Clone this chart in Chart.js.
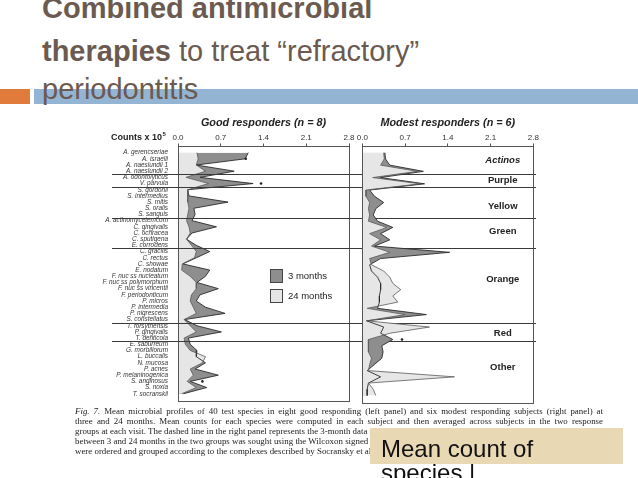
<!DOCTYPE html>
<html>
<head>
<meta charset="utf-8">
<script src="https://cdn.jsdelivr.net/npm/chart.js@4.4.1/dist/chart.umd.min.js"></script>
<style>
body { margin:0; width:638px; height:478px; overflow:hidden; background:#fff; position:relative; font-family:"Liberation Sans", Arial, sans-serif; }
.ttl { position:absolute; left:42px; font-size:29px; line-height:29px; color:#6b5a50; white-space:nowrap; }
.bar { position:absolute; top:89px; height:15px; }
.wrap { position:absolute; top:112px; height:295px; }
.lgbox { position:absolute; left:270px; width:11px; height:12px; border:1px solid #444; }
.lgtxt { position:absolute; left:288px; font-size:9.5px; line-height:13px; color:#222; }
.cap { position:absolute; left:75px; width:528px; font-family:"Liberation Serif", "Times New Roman", serif; font-size:8.9px; line-height:10px; color:#222; white-space:nowrap; }
.just { text-align:justify; text-align-last:justify; word-spacing:-0.6px; white-space:normal; height:10px; overflow:hidden; }
.note { position:absolute; left:370px; top:428px; width:253px; height:36px; background:#e8d8b4; }
.notetxt { position:absolute; left:381px; top:437px; font-size:24px; line-height:24px; color:#111; white-space:nowrap; }
</style>
</head>
<body>
<div class="bar" style="left:0; width:30px; background:#e07b3c"></div>
<div class="bar" style="left:34px; width:604px; background:#94b4d4"></div>
<div class="ttl" style="top:-6px"><b>Combined antimicrobial</b></div>
<div class="ttl" style="top:37px"><b>therapies</b> to treat “refractory”</div>
<div class="ttl" style="top:75px">periodontitis</div>

<div class="wrap" style="left:100px; width:436px"><canvas id="goodChart"></canvas></div>
<div class="wrap" style="left:352px; width:200px"><canvas id="modestChart"></canvas></div>

<div class="lgbox" style="top:269px; background:#8e8e8e"></div>
<div class="lgtxt" style="top:269px">3 months</div>
<div class="lgbox" style="top:289px; background:#e6e6e6"></div>
<div class="lgtxt" style="top:289px">24 months</div>

<div class="cap just" style="top:406px"><i>Fig. 7.</i> Mean microbial profiles of 40 test species in eight good responding (left panel) and six modest responding subjects (right panel) at</div>
<div class="cap just" style="top:416px">three and 24 months. Mean counts for each species were computed in each subject and then averaged across subjects in the two response</div>
<div class="cap" style="top:426px">groups at each visit. The dashed line in the right panel represents the 3-month data of the good responders.</div>
<div class="cap" style="top:436px">between 3 and 24 months in the two groups was sought using the Wilcoxon signed ranks test.</div>
<div class="cap" style="top:446px">were ordered and grouped according to the complexes described by Socransky et al.</div>

<div class="note"></div>
<div class="notetxt">Mean count of<br>species |</div>

<script>
const species = [
  'A. gerencseriae', 'A. israelii', 'A. naeslundii 1', 'A. naeslundii 2',
  'A. odontolyticus', 'V. parvula',
  'S. gordonii', 'S. intermedius', 'S. mitis', 'S. oralis', 'S. sanguis',
  'A. actinomycetemcom', 'C. gingivalis', 'C. ochracea', 'C. sputigena', 'E. corrodens',
  'C. gracilis', 'C. rectus', 'C. showae', 'E. nodatum', 'F. nuc ss nucleatum',
  'F. nuc ss polymorphum', 'F. nuc ss vincentii', 'F. periodonticum', 'P. micros',
  'P. intermedia', 'P. nigrescens', 'S. constellatus',
  'T. forsythensis', 'P. gingivalis', 'T. denticola',
  'E. saburreum', 'G. morbillorum', 'L. buccalis', 'N. mucosa', 'P. acnes',
  'P. melaninogenica', 'S. anginosus', 'S. noxia', 'T. socranskii'
];

// mean counts x 10^5, good responders
const good3m = [1.15, 1.10, 0.30, 0.92, 0.36, 1.23, 0.16, 0.18, 0.82, 0.26,
  0.28, 0.23, 0.63, 0.23, 0.14, 0.30, 0.52, 0.30, 0.08, 0.52,
  0.45, 0.31, 0.66, 0.36, 0.30, 0.45, 0.77, 0.11, 0.31, 0.71,
  0.17, 0.20, 0.31, 0.30, 0.45, 0.28, 0.66, 0.20, 0.47, 0.09];
const good24m = [0.31, 0.33, 0.30, 0.45, 0.13, 0.50, 0.16, 0.16, 0.16, 0.18,
  0.16, 0.14, 0.18, 0.20, 0.14, 0.22, 0.30, 0.27, 0.07, 0.06,
  0.20, 0.30, 0.30, 0.22, 0.20, 0.25, 0.30, 0.10, 0.20, 0.30,
  0.10, 0.12, 0.20, 0.45, 0.40, 0.20, 0.25, 0.15, 0.30, 0.06];

// mean counts x 10^5, modest responders
const modest3m = [0.37, 0.38, 0.45, 1.00, 0.30, 1.02, 0.12, 0.20, 0.35, 0.22,
  0.18, 0.25, 0.50, 0.30, 0.45, 0.20, 1.43, 0.30, 0.12, 0.15,
  0.25, 0.30, 0.30, 0.28, 0.28, 0.25, 1.05, 0.07, 0.35, 0.30,
  0.50, 0.32, 0.34, 0.32, 0.20, 0.08, 0.30, 0.10, 0.08, 0.08];
const modest24m = [0.35, 0.36, 0.30, 0.90, 0.17, 0.95, 0.06, 0.06, 0.12, 0.10,
  0.12, 0.10, 0.40, 0.12, 0.30, 0.15, 0.45, 0.12, 0.15, 0.35,
  0.45, 0.50, 0.63, 0.50, 0.58, 0.08, 0.70, 0.07, 1.10, 0.45,
  0.10, 0.10, 0.10, 0.15, 0.12, 0.10, 1.51, 0.10, 0.18, 0.22];

const xTicks = [0, 0.7, 1.4, 2.1, 2.8];

// complexes
const groupNames = ['Actinos', 'Purple', 'Yellow', 'Green', 'Orange', 'Red', 'Other'];
const groupLabelRows = [1.2, 4.5, 8.6, 12.6, 20.4, 29, 34.4];
const groupBreaks = [3.5, 5.5, 10.5, 15.5, 27.5, 30.5];

// significance marks
const goodStarRows = [1, 5, 37];
const goodStarVals = [1.11, 1.36, 0.40];
const modestStarRows = [30];
const modestStarVals = [0.65];

Chart.defaults.font.family = '"Liberation Sans", Arial, sans-serif';
Chart.defaults.color = '#333';

const panelDecor = {
  id: 'panelDecor',
  afterDraw(chart, args, opts) {
    const {ctx, chartArea: a, scales} = chart;
    const x = scales.x, y = scales.y;
    ctx.save();
    ctx.strokeStyle = '#555';
    ctx.lineWidth = 1;
    ctx.strokeRect(Math.round(a.left) + 0.5, Math.round(a.top) + 0.5, Math.round(a.right - a.left), Math.round(a.bottom - a.top));
    ctx.fillStyle = '#222';
    if (opts.side === 'right') {
      ctx.textAlign = 'center';
      ctx.textBaseline = 'middle';
      groupNames.forEach((n, i) => {
        ctx.font = (i === 0 ? 'italic ' : '') + 'bold 9.5px "Liberation Sans", Arial, sans-serif';
        ctx.fillText(n, x.getPixelForValue(2.3), y.getPixelForValue(groupLabelRows[i]));
      });
    } else {
      // complex dividers run across both panels
      ctx.strokeStyle = '#3a3a3a';
      groupBreaks.forEach(g => {
        const py = Math.round(y.getPixelForValue(g)) + 0.5;
        ctx.beginPath();
        ctx.moveTo(12, py);
        ctx.lineTo(chart.width, py);
        ctx.stroke();
      });
      ctx.textAlign = 'left';
      ctx.textBaseline = 'alphabetic';
      ctx.font = 'bold 9px "Liberation Sans", Arial, sans-serif';
      const base = x.top + x.height - 6;
      ctx.fillText('Counts x 10', 11, base);
      const w = ctx.measureText('Counts x 10').width;
      ctx.font = 'bold 6px "Liberation Sans", Arial, sans-serif';
      ctx.fillText('5', 11 + w + 0.5, base - 4);
    }
    ctx.restore();
  }
};

function profileChart(id, side, title, v3, v24, starRows, starVals) {
  const pts = arr => arr.map((v, i) => ({x: v, y: i}));
  const data = {
    datasets: [{
        label: '24 months',
        data: pts(v24),
        borderColor: '#5a5a5a',
        borderWidth: 0.8,
        backgroundColor: '#e6e6e6',
        fill: 'origin',
        pointRadius: 0
      }, {
        label: '3 months',
        data: pts(v3),
        borderColor: '#2a2a2a',
        borderWidth: 0.9,
        backgroundColor: '#8e8e8e',
        fill: 'origin',
        pointRadius: 0
      }, {
        label: 'p < 0.05',
        data: starRows.map((r, k) => ({x: starVals[k], y: r})),
        showLine: false,
        fill: false,
        pointRadius: 1.3,
        pointBorderWidth: 0,
        pointBackgroundColor: '#222'
      }]
  };

  const config = {
    type: 'line',
    data: data,
    options: {
      indexAxis: 'y',
      responsive: true,
      maintainAspectRatio: false,
      animation: false,
      layout: {
        padding: side === 'left'
          ? {top: 5, right: 187, bottom: 4, left: 0}
          : {top: 5, right: 18.7, bottom: 4, left: 10.3}
      },
      plugins: {
        legend: {display: false},
        tooltip: {enabled: false},
        filler: {drawTime: 'beforeDatasetsDraw'},
        title: {
          display: true,
          text: title,
          fullSize: false,
          padding: 0,
          color: '#222',
          font: {size: 10.8, weight: 'bold', style: 'italic'}
        },
        panelDecor: {side: side}
      },
      scales: {
        x: {
          type: 'linear',
          position: 'top',
          min: 0,
          max: 2.8,
          afterBuildTicks: s => { s.ticks = xTicks.map(v => ({value: v})); },
          afterFit: s => { s.height = 16.5; },
          ticks: {callback: v => v.toFixed(1), font: {size: 8}, padding: 1, maxRotation: 0, autoSkip: false},
          grid: {drawOnChartArea: false, tickLength: 3, color: '#555'},
          border: {display: false}
        },
        y: {
          type: 'linear',
          reverse: true,
          min: -1,
          max: 40.2,
          afterBuildTicks: s => { s.ticks = species.map((_, i) => ({value: i})); },
          afterFit: s => { s.width = side === 'left' ? 78 : 0; },
          ticks: {display: side === 'left', callback: v => species[v], autoSkip: false, padding: 2, color: '#333', font: {size: 6.4, style: 'italic'}},
          grid: {display: false},
          border: {display: false}
        }
      }
    },
    plugins: [panelDecor]
  };

  let ctx = document.getElementById(id).getContext('2d');
  new Chart(ctx, config);
}

profileChart('goodChart', 'left', 'Good responders (n = 8)', good3m, good24m, goodStarRows, goodStarVals);
profileChart('modestChart', 'right', 'Modest responders (n = 6)', modest3m, modest24m, modestStarRows, modestStarVals);
</script>
</body>
</html>
